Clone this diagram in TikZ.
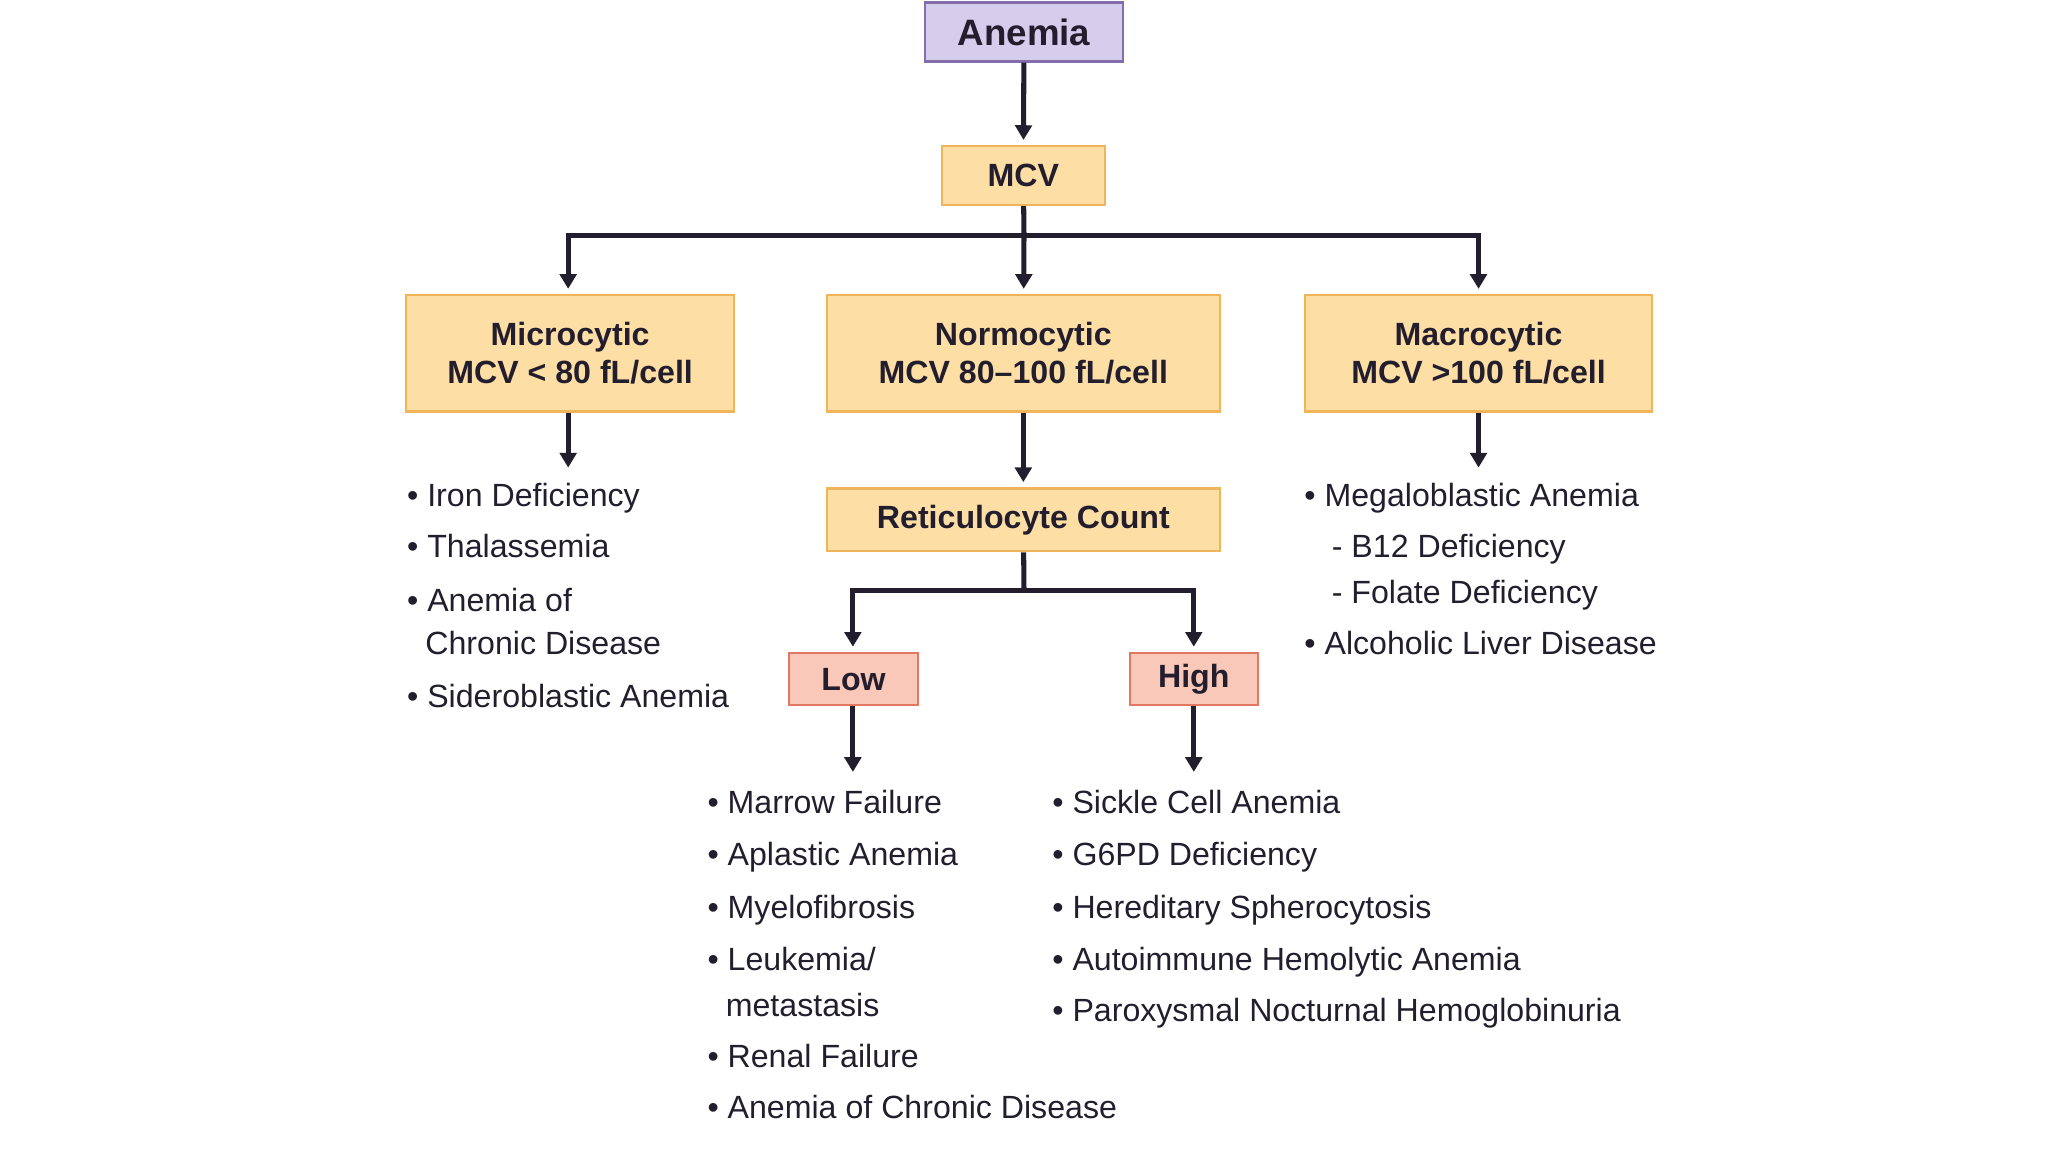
\documentclass[tikz,border=0pt]{standalone}
\usepackage{fontspec}
\setmainfont{Liberation Sans}
\usetikzlibrary{arrows.meta}
\definecolor{lav}{RGB}{214,204,236}
\definecolor{lavb}{RGB}{130,110,170}
\definecolor{org}{RGB}{253,222,165}
\definecolor{orgb}{RGB}{240,180,90}
\definecolor{sal}{RGB}{250,200,185}
\definecolor{salb}{RGB}{225,120,100}
\definecolor{txt}{RGB}{35,30,45}
\tikzset{
 box/.style={draw=orgb,fill=org,line width=0.5pt,inner sep=0pt,align=center,font=\bfseries\fontsize{7}{8.4}\selectfont,text=txt},
 item/.style={anchor=base west,inner sep=0pt,font=\fontsize{7}{8.4}\selectfont,text=txt},
 arr/.style={line width=1.1pt,draw=txt,-{Triangle[length=3.2pt,width=3.6pt]}},
 ln/.style={line width=1.1pt,draw=txt}
}
\begin{document}
\begin{tikzpicture}[x=0.1mm,y=-0.1mm]
\useasboundingbox (0,0) rectangle (1568,882);
\node[box,draw=lavb,fill=lav,minimum width=15.2mm,minimum height=4.5mm,font=\bfseries\fontsize{8}{9}\selectfont] (anemia) at (784,24.5) {Anemia};
\node[box,minimum width=12.5mm,minimum height=4.5mm] (mcv) at (783.5,134.5) {MCV};
\node[box,minimum width=25.1mm,minimum height=8.9mm] (micro) at (436.5,270.5) {Microcytic\\MCV < 80 fL/cell};
\node[box,minimum width=30.1mm,minimum height=8.9mm] (normo) at (783.5,270.5) {Normocytic\\MCV 80–100 fL/cell};
\node[box,minimum width=26.6mm,minimum height=8.9mm] (macro) at (1132,270.5) {Macrocytic\\MCV >100 fL/cell};
\node[box,minimum width=30.1mm,minimum height=4.8mm] (retic) at (783.5,398) {Reticulocyte Count};
\node[box,draw=salb,fill=sal,minimum width=9.9mm,minimum height=4.0mm] (low) at (653.5,520) {Low};
\node[box,draw=salb,fill=sal,minimum width=9.8mm,minimum height=4.0mm] (high) at (914,520) {High};
\coordinate (j1) at (784,180);
\coordinate (j2) at (784,452);
\coordinate (e1) at (435,358);
\coordinate (e2) at (1132,358);
\coordinate (e3) at (653,591);
\coordinate (e4) at (914,591);
\draw[arr,shorten >=0.4mm] (anemia) -- (mcv);
\draw[ln] (mcv) -- (j1);
\draw[arr,shorten >=0.4mm] (j1) -| (micro.north -| e1);
\draw[arr,shorten >=0.4mm] (j1) -- (normo);
\draw[arr,shorten >=0.4mm] (j1) -| (macro.north -| e2);
\draw[arr] (micro.south -| e1) -- (e1);
\draw[arr,shorten >=0.4mm] (normo) -- (retic);
\draw[arr] (macro.south -| e2) -- (e2);
\draw[ln] (retic) -- (j2);
\draw[arr,shorten >=0.4mm] (j2) -| (low.north -| e3);
\draw[arr,shorten >=0.4mm] (j2) -| (high.north -| e4);
\draw[arr] (low.south -| e3) -- (e3);
\draw[arr] (high.south -| e4) -- (e4);
% microcytic list
\node[item] (m1) at (311,388) {• Iron Deficiency};
\node[item] (m2) at (311,427) {• Thalassemia};
\node[item] (m3) at (311,468) {• Anemia of};
\node[item] (m3b) at (325,501) {Chronic Disease};
\node[item] (m4) at (311,542) {• Sideroblastic Anemia};
% macrocytic list
\begin{scope}
\clip (990,360) rectangle (1273,520);
\node[item] (a1) at (998,388) {• Megaloblastic Anemia};
\node[item] (a2) at (1019,427) {- B12 Deficiency};
\node[item] (a3) at (1019,462) {- Folate Deficiency};
\node[item] (a4) at (998,501) {• Alcoholic Liver Disease};
\end{scope}
% low list
\node[item] (l1) at (541,623) {• Marrow Failure};
\node[item] (l2) at (541,663) {• Aplastic Anemia};
\node[item] (l3) at (541,703) {• Myelofibrosis};
\node[item] (l4) at (541,743) {• Leukemia/};
\node[item] (l4b) at (555,778) {metastasis};
\node[item] (l5) at (541,817) {• Renal Failure};
\node[item] (l6) at (541,856) {• Anemia of Chronic Disease};
% high list
\node[item] (h1) at (805,623) {• Sickle Cell Anemia};
\node[item] (h2) at (805,663) {• G6PD Deficiency};
\node[item] (h3) at (805,703) {• Hereditary Spherocytosis};
\node[item] (h4) at (805,743) {• Autoimmune Hemolytic Anemia};
\node[item] (h5) at (805,782) {• Paroxysmal Nocturnal Hemoglobinuria};
\end{tikzpicture}
\end{document}
